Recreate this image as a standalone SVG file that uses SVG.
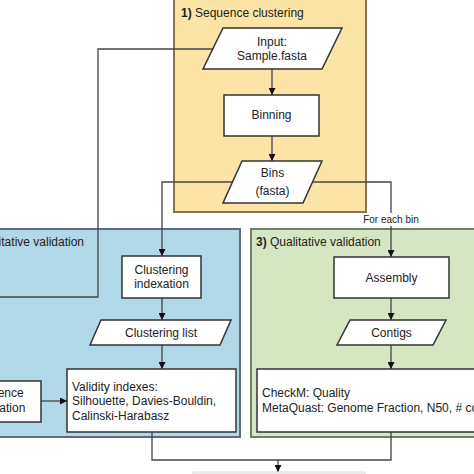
<svg xmlns="http://www.w3.org/2000/svg" width="474" height="474" viewBox="0 0 474 474">
<defs>
<marker id="arr" viewBox="0 0 10 10" refX="10" refY="5" markerWidth="7" markerHeight="7" markerUnits="userSpaceOnUse" orient="auto">
<path d="M0,0 L10,5 L0,10 z" fill="#111"/>
</marker>
<style>
text{font-family:"Liberation Sans",Arial,sans-serif;font-size:12px;fill:#222}
.t{text-anchor:middle}
.node{fill:#fff;stroke:#333;stroke-width:1.5}
.con{fill:none;stroke:#444;stroke-width:1.3}
.arr{marker-end:url(#arr)}
.small{font-size:10px}
</style>
</defs>
<rect width="474" height="474" fill="#fff"/>

<g id="group1">
<rect x="174" y="-5" width="192" height="217" fill="#fbe4a6" stroke="#857650" stroke-width="2"/>
<text x="181" y="17"><tspan font-weight="bold">1)</tspan> Sequence clustering</text>
</g>
<g id="group2">
<rect x="-10" y="229" width="250" height="208" fill="#b1d8e6" stroke="#5b6f7a" stroke-width="2"/>
<text x="84" y="246" text-anchor="end"><tspan font-weight="bold">2)</tspan> Quantitative validation</text>
</g>
<g id="group3">
<rect x="251" y="229" width="233" height="208" fill="#d6e6c3" stroke="#737e66" stroke-width="2"/>
<text x="256" y="246"><tspan font-weight="bold">3)</tspan> Qualitative validation</text>
</g>

<g id="connectors">
<path class="con" d="M213,49 H98 V297 H-10"/>
<path class="con arr" d="M272,69 V95"/>
<path class="con arr" d="M272,136 V161"/>
<path class="con arr" d="M233,182 H162 V256"/>
<path class="con arr" d="M312,182 H391 V257"/>
<path class="con arr" d="M162,298 V320"/>
<path class="con arr" d="M162,345 V369"/>
<path class="con arr" d="M41,401 H67"/>
<path class="con arr" d="M391,298 V320"/>
<path class="con arr" d="M391,345 V369"/>
<path class="con" d="M152,432 V460 H391 V432"/>
<path class="con arr" d="M278,460 V472"/>
<rect x="362" y="213" width="58" height="13" fill="#fff"/>
<text class="t small" x="391" y="223">For each bin</text>
</g>

<g id="input">
<polygon class="node" points="223,28 342,28 322,69 203,69"/>
<text class="t" x="272" y="46">Input:</text>
<text class="t" x="272" y="60">Sample.fasta</text>
</g>
<g id="binning">
<rect class="node" x="224" y="95" width="95" height="41"/>
<text class="t" x="271.5" y="119">Binning</text>
</g>
<g id="bins">
<polygon class="node" points="242,161 322,161 303,203 223,203"/>
<text class="t" x="272.5" y="177">Bins</text>
<text class="t" x="272.5" y="195">(fasta)</text>
</g>
<g id="clustering-indexation">
<rect class="node" x="122" y="256" width="79" height="42"/>
<text class="t" x="161.5" y="274">Clustering</text>
<text class="t" x="161.5" y="288">indexation</text>
</g>
<g id="clustering-list">
<polygon class="node" points="101,320 231,320 220,345 90,345"/>
<text class="t" x="161" y="337">Clustering list</text>
</g>
<g id="reference">
<rect class="node" x="-45" y="381" width="86" height="41"/>
<text class="t" x="-4" y="397">Reference</text>
<text class="t" x="0" y="412">validation</text>
</g>
<g id="validity">
<rect class="node" x="67" y="369" width="169" height="63"/>
<text x="72" y="391">Validity indexes:</text>
<text x="72" y="405">Silhouette, Davies-Bouldin,</text>
<text x="72" y="420">Calinski-Harabasz</text>
</g>
<g id="assembly">
<rect class="node" x="334" y="257" width="115" height="41"/>
<text class="t" x="391.5" y="282">Assembly</text>
</g>
<g id="contigs">
<polygon class="node" points="350,320 446,320 433,345 337,345"/>
<text class="t" x="391.5" y="337">Contigs</text>
</g>
<g id="checkm">
<rect class="node" x="257" y="369" width="230" height="63"/>
<text x="262" y="397">CheckM: Quality</text>
<text x="262" y="412">MetaQuast: Genome Fraction, N50, # contigs</text>
</g>
<g id="final">
<rect x="193" y="472" width="172" height="10" fill="#eeeeee" stroke="#dddddd" stroke-width="1"/>
</g>
</svg>
